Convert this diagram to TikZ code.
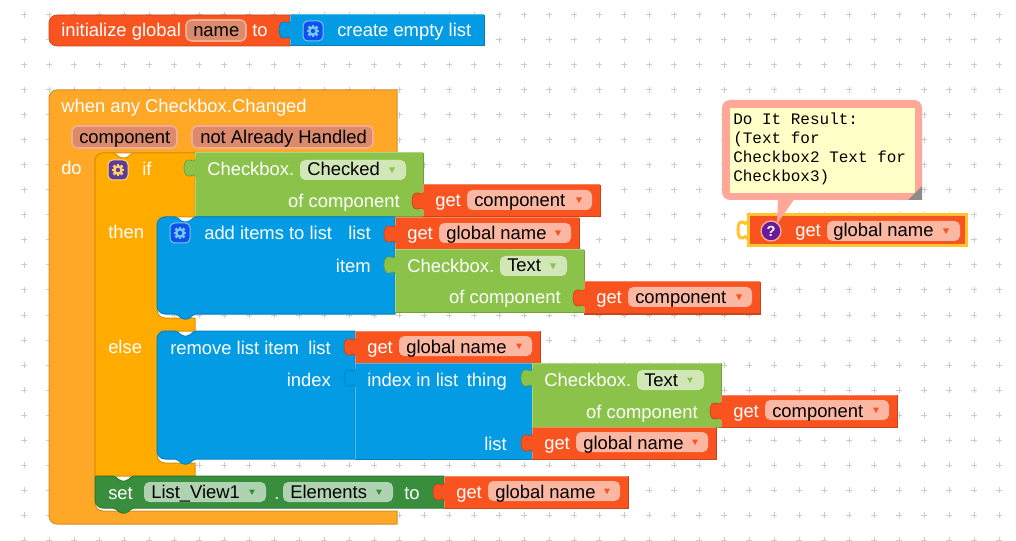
\documentclass[tikz,border=0pt]{standalone}
\usepackage{fontspec}
\setmainfont{Liberation Sans}
\setmonofont{Liberation Mono}
\definecolor{redblock}{HTML}{F9531F}
\definecolor{redfield}{HTML}{FBB7A1}
\definecolor{redparam}{HTML}{DB8A6C}
\definecolor{blueblock}{HTML}{049BE5}
\definecolor{greenblock}{HTML}{8BC34A}
\definecolor{greenfield}{HTML}{D1E7B7}
\definecolor{setblock}{HTML}{388E3C}
\definecolor{setfield}{HTML}{AFD2B1}
\definecolor{eventblock}{HTML}{FFA726}
\definecolor{ifblock}{HTML}{FFAB00}
\definecolor{commentedge}{HTML}{FFA899}
\definecolor{commentbg}{HTML}{FFFFC7}
\definecolor{doitedge}{HTML}{FFC42E}
\definecolor{gearblue}{HTML}{1150EE}
\definecolor{gearpurple}{HTML}{5E3C96}
\definecolor{querypurple}{HTML}{6A1B9A}
\newcommand{\valblock}[5]{
    \fill[#5] (#1,#2) rectangle (#3,#4);
    \draw[#5!70!white, line width = 0.75pt] (#1,#4) -- (#1,#2) -- (#3,#2);
    \draw[#5!82!black, line width = 0.75pt] (#1,#4) -- (#3,#4) -- (#3,#2);
}
\newcommand{\valtab}[3]{
    \filldraw[fill = #3, draw = #3!80!black, line width = 0.5pt] (#1+1,#2+6) .. controls (#1-1,#2+9) and (#1-3,#2+8) .. (#1-5,#2+7) .. controls (#1-9,#2+6) and (#1-11,#2+10) .. (#1-11,#2+15) .. controls (#1-11,#2+20) and (#1-9,#2+24) .. (#1-5,#2+23) .. controls (#1-3,#2+22) and (#1-1,#2+21) .. (#1+1,#2+24);
    \fill[#3] (#1,#2+6) -- (#1+2,#2+6) -- (#1+2,#2+24) -- (#1,#2+24) -- cycle;
}
\newcommand{\stmtblock}[5]{
    \filldraw[fill = #5, draw = #5!85!black, line width = 0.75pt] (#1,#2+20) [rounded corners = 6pt] -- (#1,#2) [rounded corners = 1.5pt] -- (#1+20,#2) -- (#1+25,#2+5) -- (#1+32,#2+5) -- (#1+37,#2) [sharp corners] -- (#3,#2) -- (#3,#4) [rounded corners = 1.5pt] -- (#1+37,#4) -- (#1+32,#4+5) -- (#1+25,#4+5) -- (#1+20,#4) [rounded corners = 6pt] -- (#1,#4) -- cycle;
}
\newcommand{\dropmark}[3]{
    \fill[#3] (#1-3,#2-2.5) -- (#1+3,#2-2.5) -- (#1,#2+3) -- cycle;
}
\newcommand{\getblock}[5]{
    \valblock{#2}{#3}{#4}{#3+32}{redblock}
    \valtab{#2}{#3+1}{redblock}
    \node (#1get) [blocktext] at (#2+12,#3+21) {get};
    \fill[redfield, rounded corners = 4pt] (#2+44,#3+5) rectangle (#4-8,#3+25);
    \node (#1field) [fieldtext] at (#2+51,#3+21) {#5};
    \dropmark{#4-21}{#3+15}{redblock}
}
\newcommand{\fieldpill}[7]{
    \fill[#5, rounded corners = 4pt] (#2,#4) rectangle (#3,#4+20);
    \node (#1) [fieldtext] at (#2+7,#4+15) {#6};
    \dropmark{#3-14}{#4+10}{#7}
}
\newcommand{\gearicon}[5]{
    \filldraw[fill = #3, draw = #5, line width = 0.75pt, rounded corners = 3.5pt] (#1,#2) rectangle (#1+20,#2+20);
    \foreach \a in {0,45,...,315}
        \fill[#4, rotate around = {\a:(#1+10,#2+10)}] (#1+8.6,#2+3.8) rectangle (#1+11.4,#2+7);
    \fill[#4] (#1+10,#2+10) circle [radius = 5];
    \fill[#3] (#1+10,#2+10) circle [radius = 2.2];
}
\begin{document}
\begin{tikzpicture}[x = 0.75pt, y = -0.75pt,
    blocktext/.style = {anchor = base west, inner sep = 0pt, yshift = -0.75pt, text = white, font = \fontsize{13.8}{16}\selectfont},
    rightext/.style = {anchor = base east, inner sep = 0pt, yshift = -0.75pt, text = white, font = \fontsize{13.8}{16}\selectfont},
    fieldtext/.style = {anchor = base west, inner sep = 0pt, yshift = -0.75pt, text = black, font = \fontsize{13.8}{16}\selectfont},
    paramfield/.style = {fill = redparam, draw = redfield!75!redparam, line width = 1.2pt, rounded corners = 4pt}]
    \useasboundingbox (0,0) rectangle (1016,541);
    \fill[white] (0,0) rectangle (1016,541);
    \foreach \x in {24,49,...,999}
        \foreach \y in {15,40,...,540}
            \draw[black!20, line width = 0.75pt] (\x-3,\y) -- (\x+3,\y) (\x,\y-3) -- (\x,\y+3);

    \filldraw[fill = redblock, draw = redblock!82!black, line width = 0.5pt] (49,30) [rounded corners = 6pt] -- (49,15) [sharp corners] -- (290,15) -- (290,46) [rounded corners = 6pt] -- (49,46) -- cycle;
    \valblock{290}{15}{484}{46}{blueblock}
    \valtab{290}{15}{blueblock}
    \node (init) [blocktext] at (61,36) {initialize global};
    \filldraw[paramfield] (186,20) rectangle (246,41);
    \node (initname) [fieldtext] at (193,36) {name};
    \node (initto) [blocktext] at (252,36) {to};
    \gearicon{303}{21}{gearblue}{blueblock!55!white}{blueblock!55!white}
    \node (create) [blocktext] at (337,36) {create empty list};

    \filldraw[fill = eventblock, draw = eventblock!85!black, line width = 0.75pt] (49,110) [rounded corners = 6pt] -- (49,90) [sharp corners] -- (397,90) -- (397,153) [rounded corners = 6pt] -- (95,153) -- (95,511) [sharp corners] -- (397,511) -- (397,524) [rounded corners = 6pt] -- (49,524) -- cycle;
    \node (when) [blocktext] at (61,112) {when any Checkbox.Changed};
    \filldraw[paramfield] (72,126) rectangle (177,148);
    \node (whencomp) [fieldtext] at (79,143) {component};
    \filldraw[paramfield] (192,126) rectangle (373,148);
    \node (whenhandled) [fieldtext] at (200,143) {not Already Handled};
    \node (whendo) [blocktext] at (61,174) {do};

    \filldraw[fill = ifblock, draw = ifblock!85!black, line width = 0.75pt] (95,180) [rounded corners = 6pt] -- (95,153) [rounded corners = 1.5pt] -- (115,153) -- (120,158) -- (127,158) -- (132,153) [sharp corners] -- (195,153) -- (195,217) [rounded corners = 6pt] -- (157,217) -- (157,318) [sharp corners] -- (195,318) -- (195,331) [rounded corners = 6pt] -- (157,331) -- (157,463) [sharp corners] -- (195,463) -- (195,476) -- (95,476) -- cycle;
    \gearicon{108}{160}{gearpurple}{ifblock!55!white}{ifblock!45!white}
    \node (ifif) [blocktext] at (142,175) {if};
    \node (ifthen) [blocktext] at (108,238) {then};
    \node (ifelse) [blocktext] at (108,352) {else};

    \valblock{195}{153}{423}{217}{greenblock}
    \valtab{195}{153}{greenblock}
    \node (chk) [blocktext] at (207,175) {Checkbox.};
    \fieldpill{chkprop}{300}{406}{160}{greenfield}{Checked}{greenblock}
    \node (chkof) [rightext] at (400,207) {of component};
    \getblock{getone}{423}{185}{600}{component}

    \stmtblock{157}{217}{395}{314}{blueblock}
    \gearicon{170}{223}{gearblue}{blueblock!55!white}{blueblock!55!white}
    \node (add) [blocktext] at (204,239) {add items to list};
    \node (addlist) [rightext] at (371,239) {list};
    \node (additem) [rightext] at (371,272) {item};
    \getblock{gettwo}{395}{218}{579}{global name}
    \valblock{395}{250}{584}{313}{greenblock}
    \valtab{395}{250}{greenblock}
    \node (txtone) [blocktext] at (407,272) {Checkbox.};
    \fieldpill{txtoneprop}{500}{567}{256}{greenfield}{Text}{greenblock}
    \node (txtoneof) [rightext] at (561,303) {of component};
    \getblock{getthree}{584}{282}{760}{component}

    \stmtblock{157}{331}{355}{459}{blueblock}
    \node (rem) [blocktext] at (170,353) {remove list item};
    \node (remlist) [rightext] at (331,353) {list};
    \node (remindex) [rightext] at (331,385) {index};
    \getblock{getfour}{355}{331}{540}{global name}
    \valblock{355}{363}{532}{459}{blueblock}
    \valtab{355}{363}{blueblock}
    \node (idx) [blocktext] at (367,385) {index in list};
    \node (idxthing) [rightext] at (507,385) {thing};
    \node (idxlist) [rightext] at (507,449) {list};
    \valblock{532}{363}{721}{427}{greenblock}
    \valtab{532}{363}{greenblock}
    \node (txttwo) [blocktext] at (544,385) {Checkbox.};
    \fieldpill{txttwoprop}{637}{704}{370}{greenfield}{Text}{greenblock}
    \node (txttwoof) [rightext] at (698,417) {of component};
    \getblock{getfive}{721}{395}{897}{component}
    \getblock{getsix}{532}{427}{716}{global name}

    \filldraw[fill = setblock, draw = setblock!85!black, line width = 0.75pt] (95,490) [rounded corners = 1.5pt] -- (95,476) -- (115,476) -- (120,481) -- (127,481) -- (132,476) [sharp corners] -- (444,476) -- (444,508) [rounded corners = 1.5pt] -- (132,508) -- (127,513) -- (120,513) -- (115,508) [rounded corners = 6pt] -- (95,508) -- cycle;
    \node (set) [blocktext] at (108,498) {set};
    \fieldpill{setcomp}{144}{266}{482}{setfield}{List\_View1}{setblock}
    \node (setdot) [blocktext] at (274,498) {.};
    \fieldpill{setprop}{283}{393}{482}{setfield}{Elements}{setblock}
    \node (setto) [blocktext] at (404,498) {to};
    \getblock{getseven}{444}{476}{628}{global name}

    \filldraw[fill = white, draw = doitedge, line width = 2.25pt] (748,221) .. controls (746,225) and (744,223) .. (743,222) .. controls (739,221) and (738,225) .. (738,230) .. controls (738,235) and (739,239) .. (743,238) .. controls (744,237) and (746,235) .. (748,239);
    \filldraw[fill = redblock, draw = doitedge, line width = 2.25pt] (748.5,214.5) rectangle (966,246);
    \node (doget) [blocktext] at (795,236) {get};
    \fill[redfield, rounded corners = 4pt] (827,221) rectangle (960,241);
    \node (dofield) [fieldtext] at (833,236) {global name};
    \dropmark{946}{231}{redblock}
    \fill[commentedge] (778,198) -- (795,198) -- (777,224) -- cycle;
    \fill[commentedge, rounded corners = 6pt] (722,100) rectangle (922,200);
    \fill[commentbg] (730,108) rectangle (915,193);
    \fill[black!45] (908,200) -- (922,186) -- (922,200) -- cycle;
    \filldraw[fill = querypurple, draw = redfield, line width = 0.9pt] (771,231) circle [radius = 10];
    \node (doquery) [anchor = center, inner sep = 0pt, text = white, font = \fontsize{11}{13}\selectfont\bfseries] at (771,231) {?};
    \node (dotext) [anchor = north west, inner sep = 0pt, align = left, font = \fontsize{12}{14.25}\ttfamily\selectfont] at (733,113) {Do It Result:\\(Text for\\Checkbox2 Text for\\Checkbox3)};
\end{tikzpicture}
\end{document}
